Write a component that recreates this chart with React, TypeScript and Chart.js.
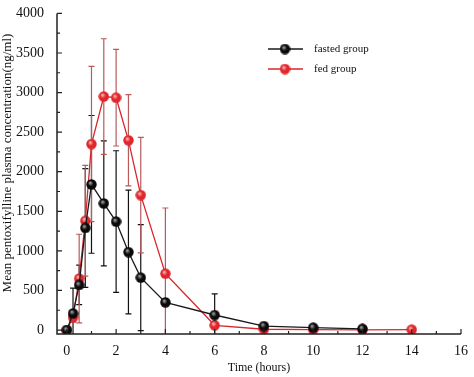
import { useEffect, useRef } from 'react';
import { Chart, registerables } from 'chart.js';
Chart.register(...registerables);

const timeFasted = [0, 0.25, 0.5, 0.75, 1, 1.5, 2, 2.5, 3, 4, 6, 8, 10, 12];
const fastedMean = [0, 210, 570, 1290, 1840, 1600, 1370, 985, 662, 350, 190, 50, 30, 15];
const fastedSD = [0, 320, 250, 750, 870, 790, 895, 782, 670, 0, 266, 0, 0, 0];
const timeFed = [0, 0.25, 0.5, 0.75, 1, 1.5, 2, 2.5, 3, 4, 6, 8, 10, 12, 14];
const fedMean = [0, 160, 650, 1380, 2350, 2950, 2935, 2397, 1705, 712, 60, 10, 5, 3, 5];
const fedSD = [0, 60, 560, 700, 980, 730, 610, 576, 729, 830, 0, 0, 0, 0, 0];
const xTicks = [0, 2, 4, 6, 8, 10, 12, 14, 16];
const yTicks = [0, 500, 1000, 1500, 2000, 2500, 3000, 3500, 4000];
const seriesLabels = ['fasted group', 'fed group'];
const xTitle = 'Time (hours)';
const yTitle = 'Mean pentoxifylline plasma concentration(ng/ml)';

function sphere(base: string, hi: string, d = 11) {
  const c = document.createElement('canvas');
  c.width = d; c.height = d;
  const g = c.getContext('2d')!;
  const r = d / 2;
  const grad = g.createRadialGradient(r * 0.75, r * 0.7, 0.5, r, r, r);
  grad.addColorStop(0, hi);
  grad.addColorStop(0.45, base);
  grad.addColorStop(1, base);
  g.fillStyle = grad;
  g.beginPath(); g.arc(r, r, r - 0.3, 0, Math.PI * 2); g.fill();
  return c;
}

const sdMap = [fastedSD, fedSD];
const errColors = ['#111', '#b85a5a'];

const errorBarPlugin = {
  id: 'errbars',
  beforeDatasetsDraw(chart: any) {
    const { ctx, chartArea, scales } = chart;
    ctx.save();
    ctx.beginPath();
    ctx.rect(chartArea.left, chartArea.top, chartArea.right - chartArea.left, chartArea.bottom - chartArea.top);
    ctx.clip();
    chart.data.datasets.forEach((ds: any, i: number) => {
      const sds = sdMap[i];
      ctx.strokeStyle = errColors[i];
      ctx.lineWidth = 1.2;
      ds.data.forEach((p: any, j: number) => {
        const sd = sds[j];
        if (!sd) return;
        const x = scales.x.getPixelForValue(p.x);
        const y1 = scales.y.getPixelForValue(p.y + sd);
        const y2 = scales.y.getPixelForValue(p.y - sd);
        ctx.beginPath();
        ctx.moveTo(x, y1); ctx.lineTo(x, y2);
        ctx.moveTo(x - 3, y1); ctx.lineTo(x + 3, y1);
        ctx.moveTo(x - 3, y2); ctx.lineTo(x + 3, y2);
        ctx.stroke();
      });
    });
    ctx.restore();
  },
};

const axesPlugin = {
  id: 'axesInward',
  afterDraw(chart: any) {
    const { ctx, chartArea, scales } = chart;
    ctx.save();
    ctx.strokeStyle = '#222';
    ctx.lineWidth = 1.5;
    ctx.beginPath();
    ctx.moveTo(chartArea.left, chartArea.top);
    ctx.lineTo(chartArea.left, chartArea.bottom);
    ctx.lineTo(chartArea.right, chartArea.bottom);
    ctx.stroke();
    ctx.lineWidth = 1.2;
    ctx.beginPath();
    for (let v = 0; v <= 16; v += 1) {
      const x = scales.x.getPixelForValue(v);
      const len = v % 2 === 0 ? 5 : 3;
      ctx.moveTo(x, chartArea.bottom); ctx.lineTo(x, chartArea.bottom - len);
    }
    for (let v = 0; v <= 4000; v += 250) {
      const y = scales.y.getPixelForValue(v);
      const len = v % 500 === 0 ? 5 : 3;
      ctx.moveTo(chartArea.left, y); ctx.lineTo(chartArea.left + len, y);
    }
    ctx.stroke();
    // y title
    ctx.save();
    ctx.translate(8, 163);
    ctx.rotate(-Math.PI / 2);
    ctx.fillStyle = '#111';
    ctx.font = '13px "Liberation Serif", serif';
    ctx.textAlign = 'center';
    ctx.textBaseline = 'middle';
    ctx.fillText(yTitle, 0, 0);
    ctx.restore();
    // x title
    ctx.fillStyle = '#111';
    ctx.font = '12px "Liberation Serif", serif';
    ctx.textAlign = 'center';
    ctx.textBaseline = 'middle';
    ctx.fillText(xTitle, (chartArea.left + chartArea.right) / 2, 368);
    // legend
    const lx = 268, ly = 49;
    chart.data.datasets.forEach((ds: any, i: number) => {
      const y = ly + i * 20;
      ctx.strokeStyle = ds.borderColor;
      ctx.lineWidth = 1.5;
      ctx.beginPath(); ctx.moveTo(lx, y); ctx.lineTo(lx + 35, y); ctx.stroke();
      const img = ds.pointStyle;
      ctx.drawImage(img, lx + 17 - img.width / 2, y - img.height / 2);
      ctx.fillStyle = '#111';
      ctx.font = '11px "Liberation Serif", serif';
      ctx.textBaseline = 'middle';
      ctx.textAlign = 'left';
      ctx.fillText(ds.label, lx + 46, y);
    });
    ctx.restore();
  },
};

export default function App() {
  const ref = useRef<HTMLCanvasElement>(null);
  useEffect(() => {
    document.body.style.margin = '0';
    const blackDot = sphere('#0a0a0a', '#9a9a9a');
    const redDot = sphere('#e0262b', '#ffb0b0');
    const chart = new Chart(ref.current!, {
      type: 'line',
      data: {
        datasets: [
          {
            label: seriesLabels[0],
            data: timeFasted.map((t, i) => ({ x: t, y: fastedMean[i] })),
            borderColor: '#1a1a1a',
            borderWidth: 1.3,
            pointStyle: blackDot as any,
            pointRadius: 5,
          },
          {
            label: seriesLabels[1],
            data: timeFed.map((t, i) => ({ x: t, y: fedMean[i] })),
            borderColor: '#d8262b',
            borderWidth: 1.3,
            pointStyle: redDot as any,
            pointRadius: 5,
          },
        ],
      },
      options: {
        animation: false,
        responsive: false,
        layout: { padding: { top: 9, right: 13, left: 0, bottom: 0 } },
        plugins: { legend: { display: false }, tooltip: { enabled: false } },
        scales: {
          x: {
            type: 'linear',
            min: -0.4,
            max: 16,
            afterBuildTicks: (s: any) => { s.ticks = xTicks.map((v) => ({ value: v })); },
            afterFit: (s: any) => { s.height = 43; },
            grid: { display: false },
            border: { display: false },
            ticks: { color: '#111', font: { family: '"Liberation Serif", serif', size: 14 }, padding: 1, maxRotation: 0, callback: (v: any) => String(v) },
          },
          y: {
            type: 'linear',
            min: -50,
            max: 4000,
            afterBuildTicks: (s: any) => { s.ticks = yTicks.map((v) => ({ value: v })); },
            afterFit: (s: any) => { s.width = 57; },
            grid: { display: false },
            border: { display: false },
            ticks: { color: '#111', font: { family: '"Liberation Serif", serif', size: 14 }, padding: 5, callback: (v: any) => String(v) },
          },
        },
      },
      plugins: [errorBarPlugin, axesPlugin],
    });
    return () => chart.destroy();
  }, []);
  return (
    <div style={{ position: 'absolute', left: 0, top: 0, width: 474, height: 377 }}>
      <canvas ref={ref} width={474} height={377} style={{ width: 474, height: 377 }} />
    </div>
  );
}
